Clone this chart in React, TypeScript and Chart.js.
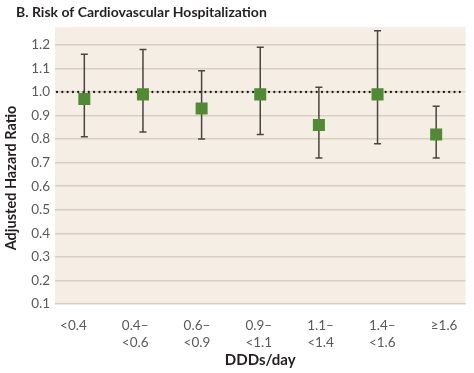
import React, { useEffect, useRef } from 'react';
import { Chart, registerables } from 'chart.js';

Chart.register(...registerables);

const categories: string[][] = [
  ['<0.4'],
  ['0.4–', '<0.6'],
  ['0.6–', '<0.9'],
  ['0.9–', '<1.1'],
  ['1.1–', '<1.4'],
  ['1.4–', '<1.6'],
  ['≥1.6'],
];
const categoryKeys = categories.map((c) => c.join(' '));
const hazardRatio = [0.97, 0.99, 0.93, 0.99, 0.86, 0.99, 0.82];
const lowerCI = [0.81, 0.83, 0.8, 0.82, 0.72, 0.78, 0.72];
const upperCI = [1.16, 1.18, 1.09, 1.19, 1.02, 1.26, 0.94];
const yTicks = [0.1, 0.2, 0.3, 0.4, 0.5, 0.6, 0.7, 0.8, 0.9, 1.0, 1.1, 1.2];
const referenceValue = 1.0;
const titleText = 'B. Risk of Cardiovascular Hospitalization';
const yTitleText = 'Adjusted Hazard Ratio';
const xTitleText = 'DDDs/day';

const FONT = 'Lato';

const decorPlugin = {
  id: 'decor',
  beforeDraw(chart: any) {
    const { ctx, chartArea: a } = chart;
    ctx.save();
    ctx.fillStyle = '#f5eee4';
    ctx.fillRect(a.left, a.top, a.right - a.left, a.bottom - a.top);
    ctx.restore();
  },
  beforeDatasetsDraw(chart: any) {
    const { ctx, chartArea: a, scales } = chart;
    const x = scales.x;
    const y = scales.y;
    ctx.save();
    ctx.strokeStyle = '#1a1a1a';
    ctx.lineWidth = 2.3;
    ctx.lineCap = 'round';
    ctx.setLineDash([0, 5.3]);
    const yr = y.getPixelForValue(referenceValue);
    ctx.beginPath();
    ctx.moveTo(a.left + 2, yr);
    ctx.lineTo(a.right - 1, yr);
    ctx.stroke();
    ctx.setLineDash([]);
    ctx.lineCap = 'butt';
    ctx.strokeStyle = '#4a453f';
    ctx.lineWidth = 1.5;
    hazardRatio.forEach((_, i) => {
      const px = x.getPixelForValue(i);
      const yl = y.getPixelForValue(lowerCI[i]);
      const yu = y.getPixelForValue(upperCI[i]);
      ctx.beginPath();
      ctx.moveTo(px, yl);
      ctx.lineTo(px, yu);
      ctx.moveTo(px - 3.5, yl);
      ctx.lineTo(px + 3.5, yl);
      ctx.moveTo(px - 3.5, yu);
      ctx.lineTo(px + 3.5, yu);
      ctx.stroke();
    });
    ctx.restore();
  },
  afterDraw(chart: any) {
    const { ctx } = chart;
    ctx.save();
    ctx.fillStyle = '#231f20';
    ctx.font = `bold 14px ${FONT}`;
    ctx.textAlign = 'left';
    ctx.textBaseline = 'alphabetic';
    ctx.fillText(titleText, 16, 17);
    ctx.translate(11, 178);
    ctx.rotate(-Math.PI / 2);
    ctx.font = `bold 14.5px ${FONT}`;
    ctx.textAlign = 'center';
    ctx.textBaseline = 'middle';
    ctx.fillText(yTitleText, 0, 0);
    ctx.restore();
  },
};

export default function App() {
  const ref = useRef<HTMLCanvasElement | null>(null);
  useEffect(() => {
    if (!ref.current) return;
    const chart = new Chart(ref.current, {
      type: 'line',
      data: {
        labels: categoryKeys,
        datasets: [
          {
            data: hazardRatio,
            xAxisID: 'x',
            yAxisID: 'y',
            showLine: false,
            pointStyle: 'rect',
            pointRadius: 8.5,
            pointHoverRadius: 8.5,
            backgroundColor: '#4f8b30',
            borderColor: '#4f8b30',
            pointBorderWidth: 0,
          },
        ],
      },
      options: {
        responsive: false,
        animation: false,
        events: [],
        layout: { padding: { top: 27, right: 7, left: 0, bottom: 0 } },
        plugins: { legend: { display: false }, tooltip: { enabled: false }, title: { display: false } },
        scales: {
          x: { type: 'category', display: false, offset: true },
          xl: {
            type: 'linear',
            position: 'bottom',
            min: -0.298,
            max: 6.347,
            afterBuildTicks: (s: any) => {
              s.ticks = categories.map((_, i) => ({ value: i }));
            },
            afterFit: (s: any) => {
              s.height = 69;
            },
            grid: { display: false },
            border: { display: false },
            ticks: {
              autoSkip: false,
              maxRotation: 0,
              padding: 6,
              color: '#5a5a5a',
              font: { family: FONT, size: 13.5 },
              callback: (_v: any, i: number) => categories[i],
            },
            title: {
              display: true,
              text: xTitleText,
              color: '#231f20',
              font: { family: FONT, size: 15, weight: 'bold' },
              padding: { top: 0, bottom: 4 },
            },
          },
          y: {
            type: 'linear',
            min: 0.1,
            max: 1.276,
            afterBuildTicks: (s: any) => {
              s.ticks = yTicks.map((v) => ({ value: v }));
            },
            afterFit: (s: any) => {
              s.width = 55;
            },
            grid: { color: '#d9cfc1', lineWidth: 1.5, drawTicks: false },
            border: { display: false },
            ticks: {
              padding: 5,
              color: '#5a5a5a',
              font: { family: FONT, size: 13.5 },
              callback: (v: any) => Number(v).toFixed(1),
            },
          },
        },
      } as any,
      plugins: [decorPlugin],
    });
    return () => chart.destroy();
  }, []);
  return (
    <div style={{ position: 'fixed', left: 0, top: 0, width: 474, height: 373, background: '#fff' }}>
      <canvas ref={ref} width={474} height={373} />
    </div>
  );
}
